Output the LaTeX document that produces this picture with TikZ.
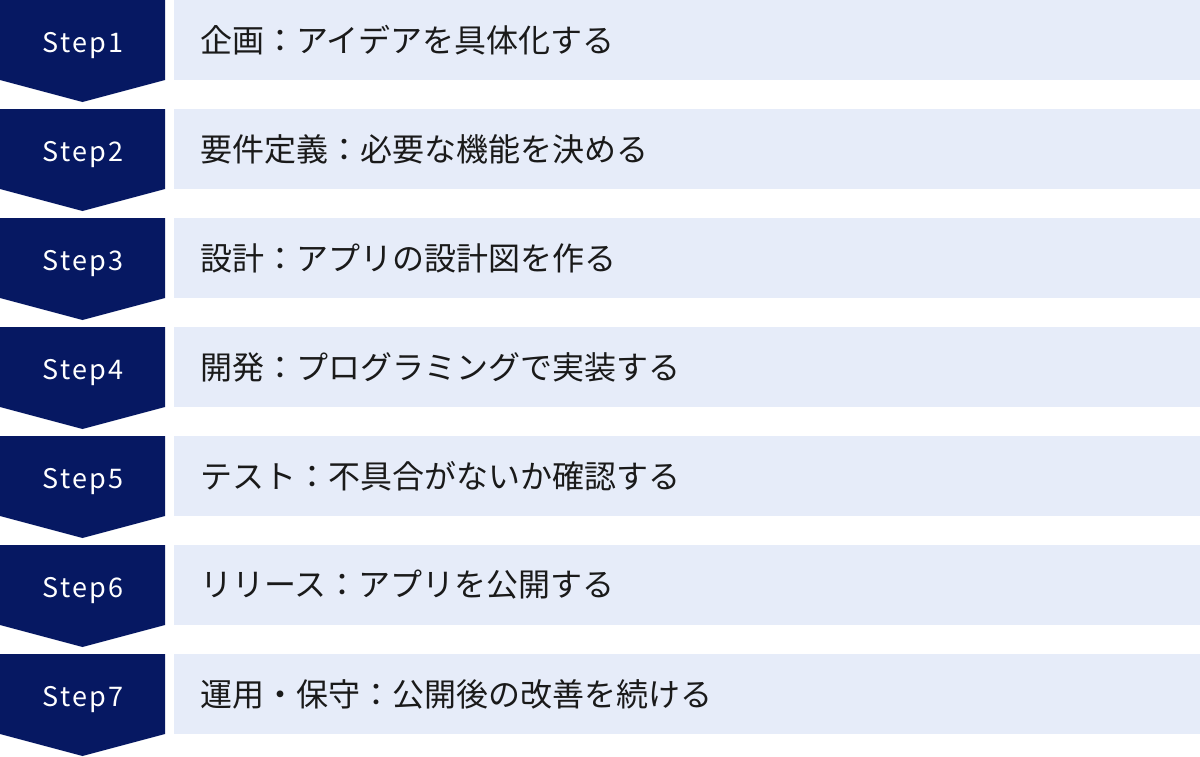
\documentclass[tikz,border=0pt]{standalone}
\usepackage{fontspec}
\newfontfamily\jpfont{Noto Sans CJK JP}
\newfontfamily\stepfont[LetterSpace=9]{Noto Sans CJK JP}
\definecolor{navy}{HTML}{061862}
\definecolor{pale}{HTML}{E6ECF9}
\definecolor{ink}{HTML}{1A1A1A}
\tikzset{
  steplabel/.style={text=white,font=\stepfont\fontsize{27}{30}\selectfont,inner sep=0pt,anchor=base},
  desclabel/.style={text=ink,font=\jpfont\fontsize{32}{38}\selectfont,inner sep=0pt,anchor=west},
}
\begin{document}
\begin{tikzpicture}[x=1pt,y=-1pt]
\useasboundingbox (0,0) rectangle (1200,756);
\foreach \i/\t in {1/企画：アイデアを具体化する,2/要件定義：必要な機能を決める,3/設計：アプリの設計図を作る,4/開発：プログラミングで実装する,5/テスト：不具合がないか確認する,6/リリース：アプリを公開する,7/運用・保守：公開後の改善を続ける}{
  \pgfmathsetmacro{\top}{(\i-1)*109}
  \fill[navy] (0,\top) -- (165,\top) -- (165,\top+80) -- (82.5,\top+102) -- (0,\top+80) -- cycle;
  \fill[pale] (174,\top) rectangle (1200,\top+80);
  \node[steplabel] (s\i) at (83,\top+52) {Step\i};
  \node[desclabel] (d\i) at (200,\top+40) {\t};
}
\end{tikzpicture}
\end{document}
